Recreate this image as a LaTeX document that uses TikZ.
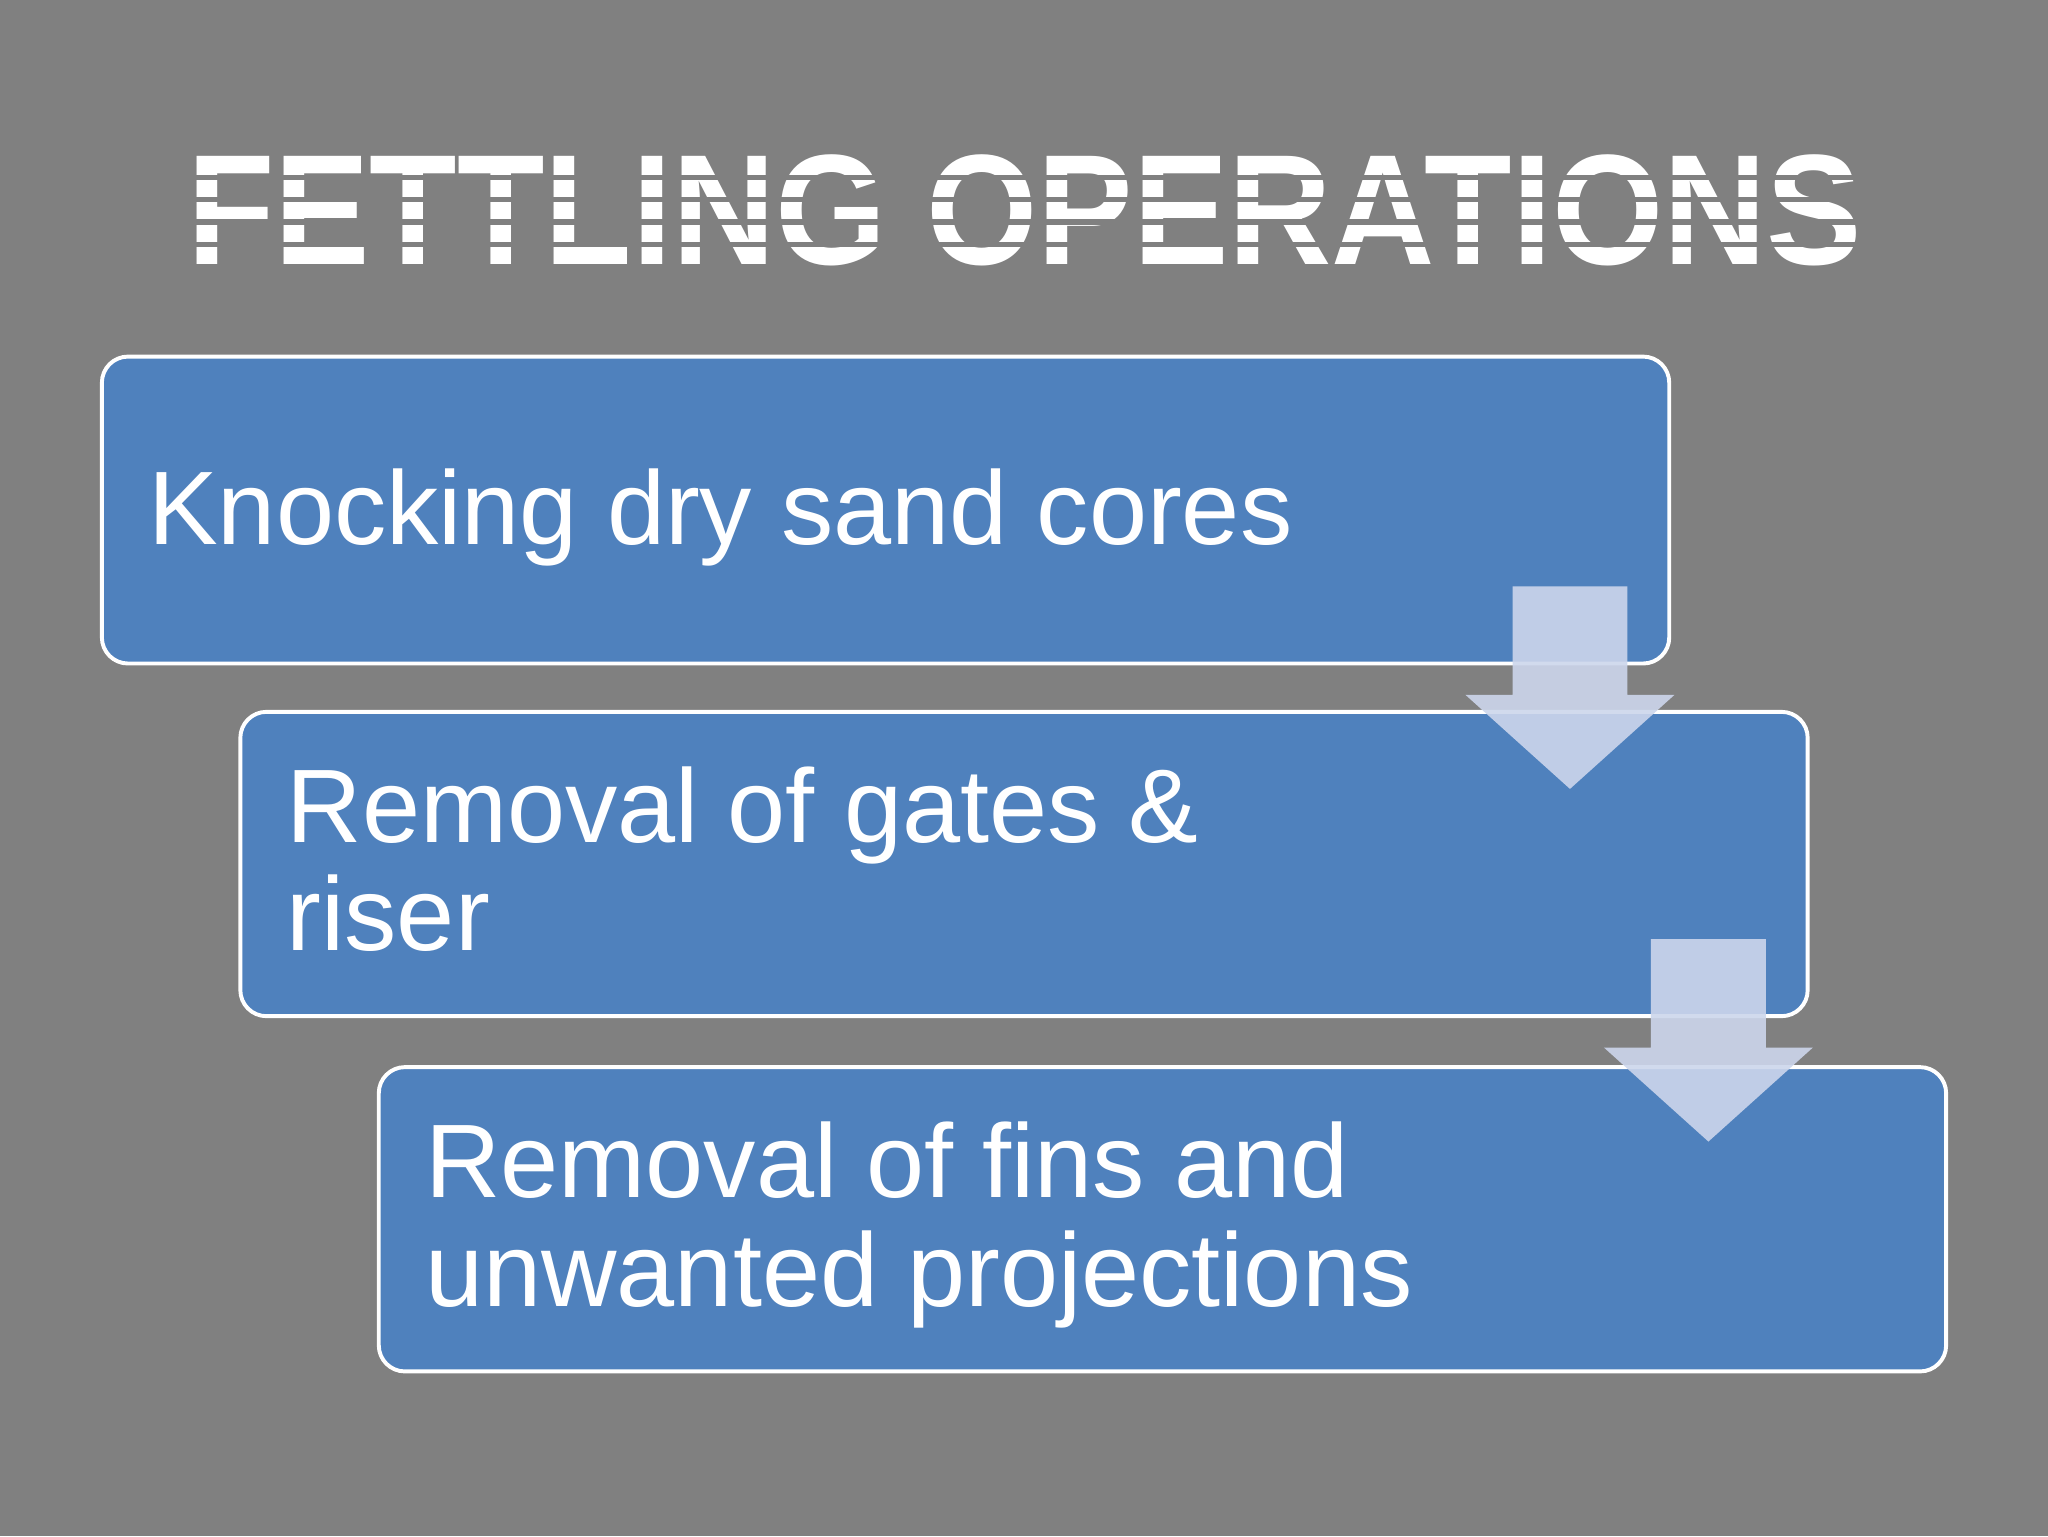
\documentclass[tikz,border=0pt]{standalone}
\usepackage{fontspec}
\setmainfont{Liberation Sans}
\definecolor{bg}{HTML}{808080}
\definecolor{boxblue}{HTML}{4F81BD}
\definecolor{arrowc}{HTML}{CDD6EC}
\begin{document}
\begin{tikzpicture}[x=1pt,y=-1pt,
  stepbox/.style={draw=white,line width=3pt,fill=boxblue,rounded corners=20pt},
  boxtext/.style={text=white,anchor=base west,align=left,font=\fontsize{80}{83}\selectfont},
  flowarrow/.style={fill=arrowc,fill opacity=0.9,draw=none}]
\fill[bg] (0,0) rectangle (1568,1176);
\useasboundingbox (0,0) rectangle (1568,1176);
\node[text=white,inner sep=0,anchor=north west] (title) at (143,118) {\resizebox{1282pt}{84pt}{\bfseries FETTLING OPERATIONS}};
\foreach \yy in {134,151,168,185}{\fill[bg] (140,\yy) rectangle (1430,\yy+4);}
\draw[stepbox] (78,273) rectangle (1278,508);
\draw[stepbox] (184,545) rectangle (1384,778);
\draw[stepbox] (290,817) rectangle (1490,1050);
\node[boxtext] (t1) at (110,417) {Knocking dry sand cores};
\node[boxtext] (t2) at (216,728) {Removal of gates \&\\riser};
\node[boxtext] (t3) at (322,1000) {Removal of fins and\\unwanted projections};
\fill[flowarrow] (1158,449) -- (1246,449) -- (1246,532) -- (1282,532) -- (1202,604) -- (1122,532) -- (1158,532) -- cycle;
\fill[flowarrow] (1264,719) -- (1352,719) -- (1352,802) -- (1388,802) -- (1308,874) -- (1228,802) -- (1264,802) -- cycle;
\end{tikzpicture}
\end{document}
